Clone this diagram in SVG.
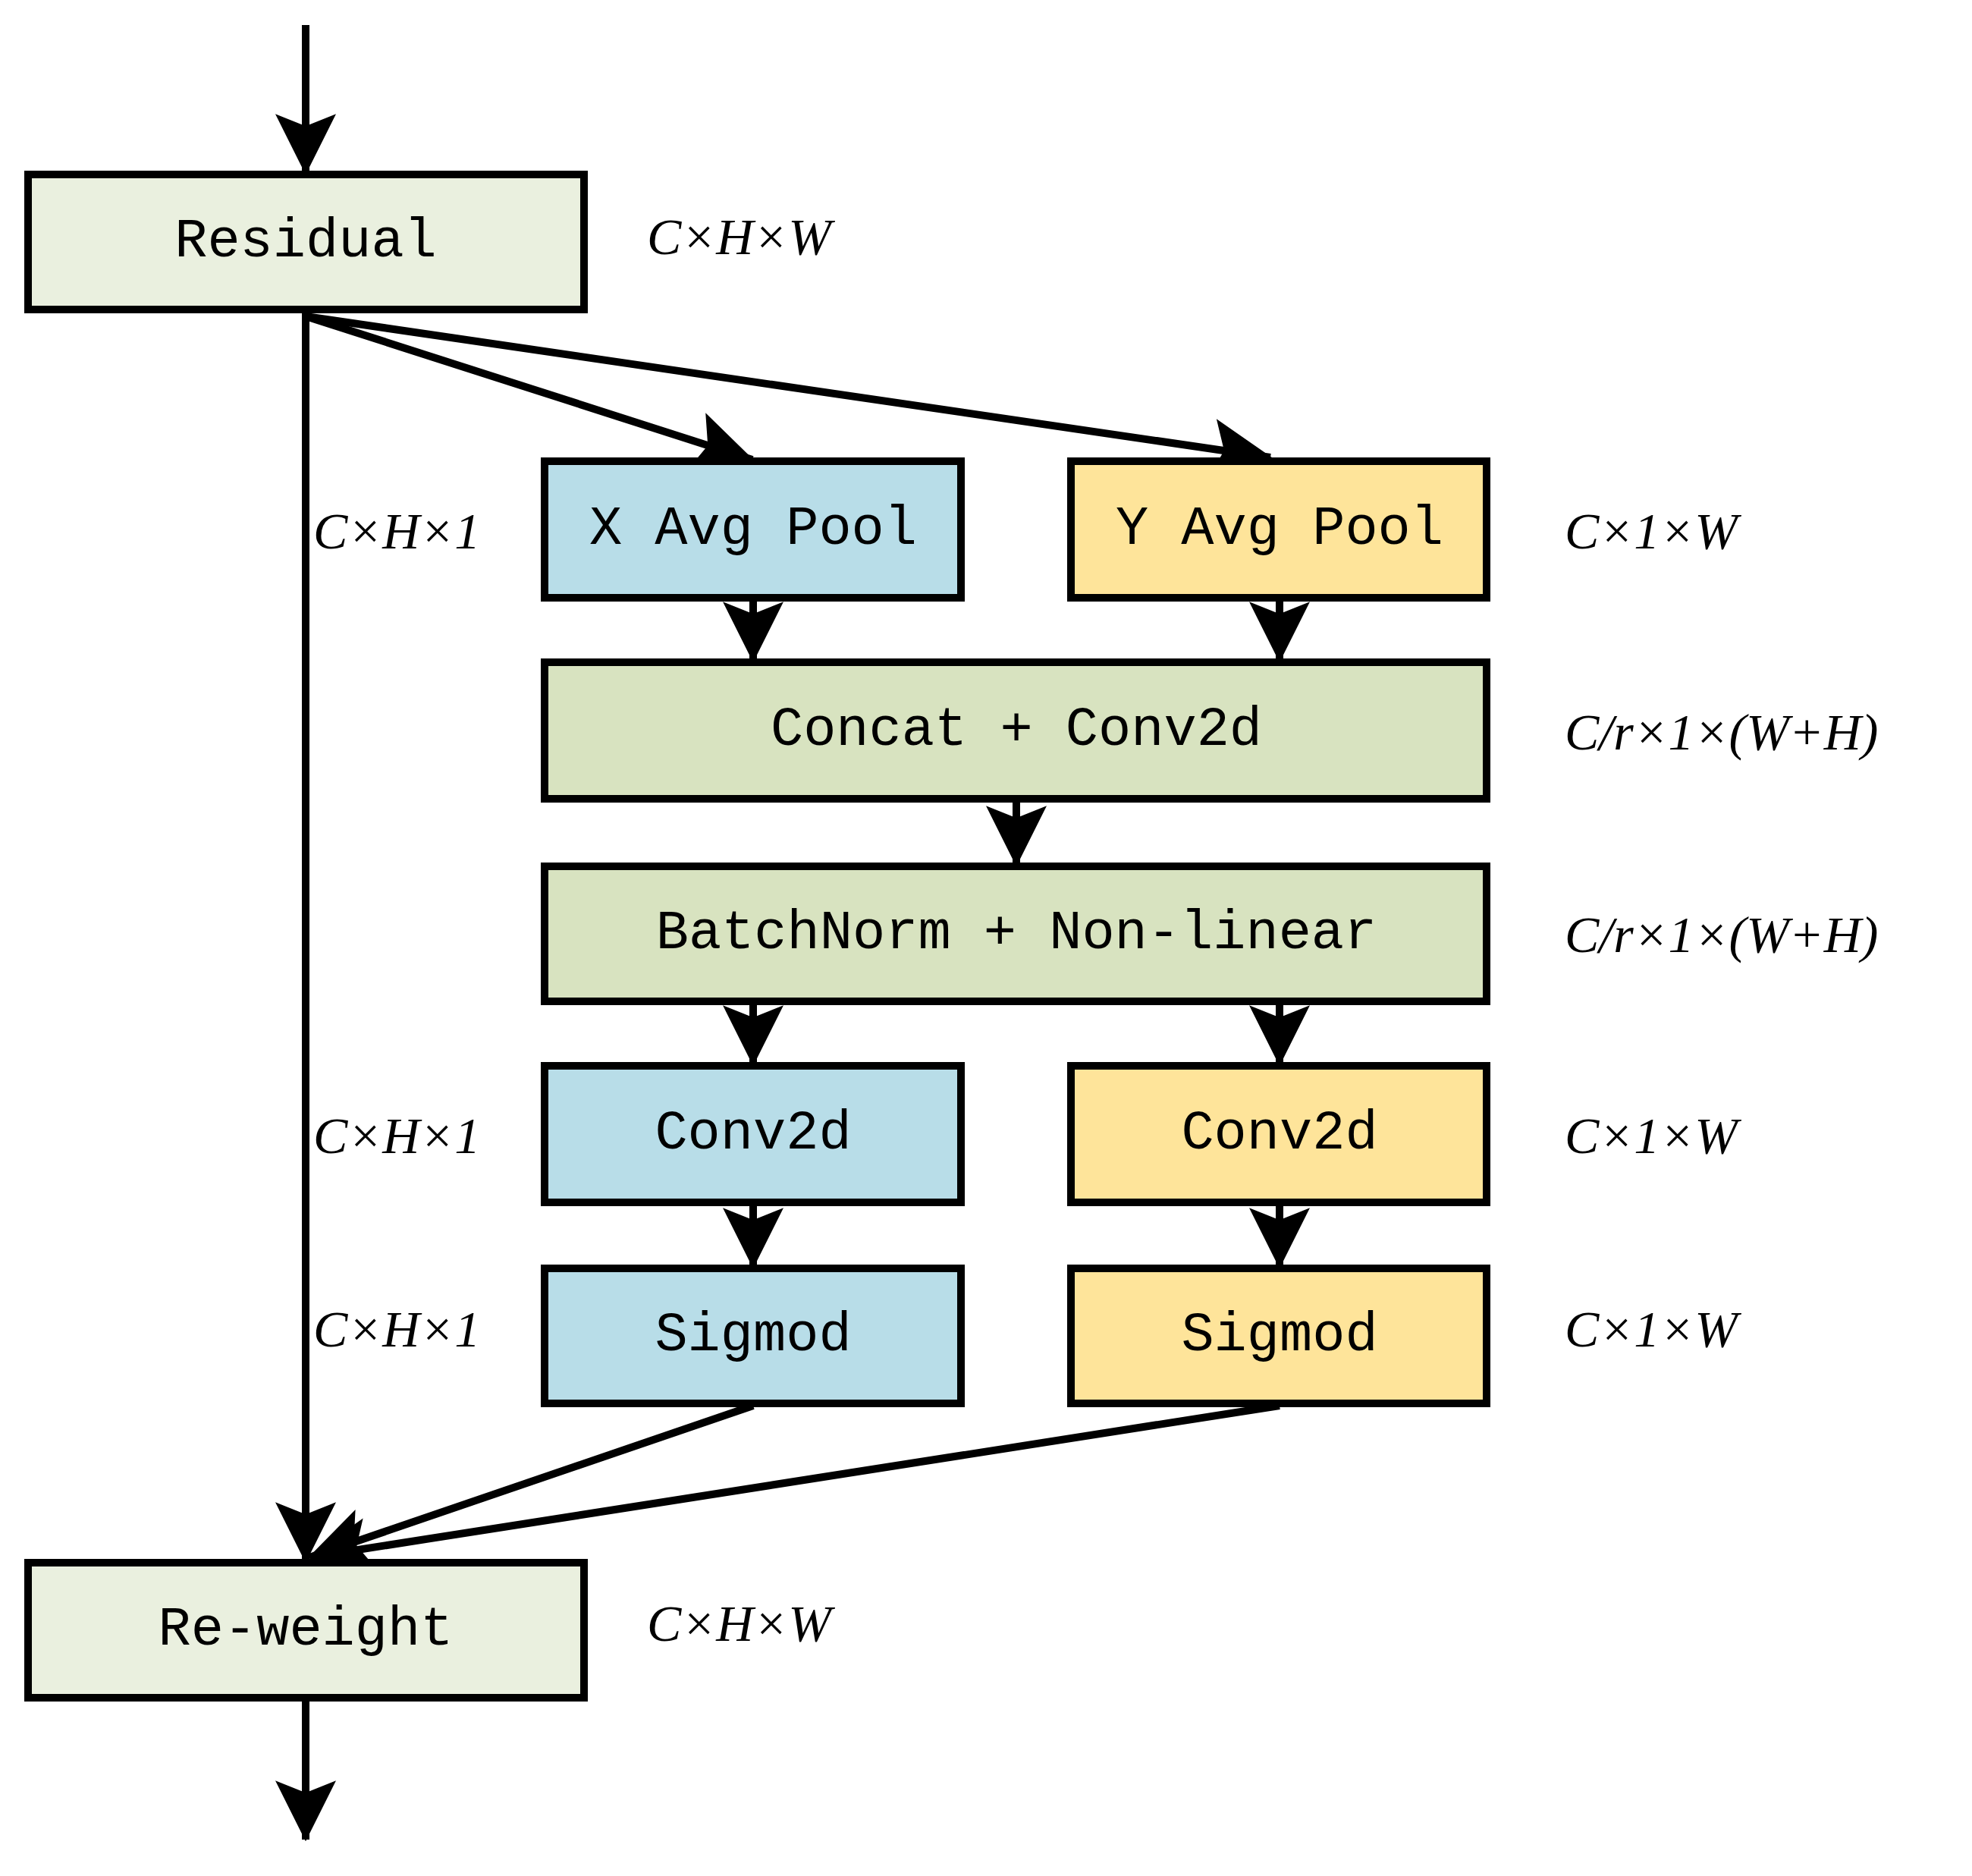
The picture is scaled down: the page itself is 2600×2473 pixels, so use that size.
<svg xmlns="http://www.w3.org/2000/svg" width="2600" height="2473" viewBox="0 0 2600 2473">
<style>
.b{stroke:#000;stroke-width:10}
.t{font-family:"Liberation Mono",monospace;font-size:72px;text-anchor:middle;dominant-baseline:central}
.l{font-family:"Liberation Serif",serif;font-style:italic;font-size:68px;dominant-baseline:central}
.c{stroke:#000;stroke-width:10;fill:none;marker-end:url(#a)}
</style>
<defs><marker id="a" markerUnits="userSpaceOnUse" markerWidth="80" markerHeight="80" viewBox="0 0 70 70" refX="68" refY="35" orient="auto"><path d="M0,0 L70,35 L0,70 L14,35 Z"/></marker></defs>
<rect width="2600" height="2473" fill="#fff"/>
<g id="connectors">
<line class="c" x1="403" y1="33" x2="403" y2="228"/>
<line class="c" x1="403" y1="408" x2="403" y2="2058"/>
<line class="c" x1="403" y1="2238" x2="403" y2="2425"/>
<line class="c" x1="403" y1="417" x2="992" y2="606"/>
<line class="c" x1="403" y1="417" x2="1675" y2="603"/>
<line class="c" x1="993" y1="788" x2="993" y2="871"/>
<line class="c" x1="1687" y1="788" x2="1687" y2="871"/>
<line class="c" x1="1340" y1="1053" x2="1340" y2="1140"/>
<line class="c" x1="993" y1="1320" x2="993" y2="1403"/>
<line class="c" x1="1687" y1="1320" x2="1687" y2="1403"/>
<line class="c" x1="993" y1="1585" x2="993" y2="1670"/>
<line class="c" x1="1687" y1="1585" x2="1687" y2="1670"/>
<line class="c" x1="993" y1="1853" x2="408" y2="2053"/>
<line class="c" x1="1687" y1="1853" x2="408" y2="2053"/>
</g>
<g id="residual"><rect class="b" x="37" y="230" width="733" height="178" fill="#EAF0DF"/><text class="t" x="403" y="319">Residual</text></g>
<g id="xpool"><rect class="b" x="718" y="608" width="549" height="180" fill="#B8DDE8"/><text class="t" x="993" y="698">X Avg Pool</text></g>
<g id="ypool"><rect class="b" x="1412" y="608" width="548" height="180" fill="#FEE49A"/><text class="t" x="1687" y="698">Y Avg Pool</text></g>
<g id="concat"><rect class="b" x="718" y="873" width="1242" height="180" fill="#D8E3C0"/><text class="t" x="1340" y="963">Concat + Conv2d</text></g>
<g id="bn"><rect class="b" x="718" y="1142" width="1242" height="178" fill="#D8E3C0"/><text class="t" x="1340" y="1231">BatchNorm + Non-linear</text></g>
<g id="xconv"><rect class="b" x="718" y="1405" width="549" height="180" fill="#B8DDE8"/><text class="t" x="993" y="1495">Conv2d</text></g>
<g id="yconv"><rect class="b" x="1412" y="1405" width="548" height="180" fill="#FEE49A"/><text class="t" x="1687" y="1495">Conv2d</text></g>
<g id="xsig"><rect class="b" x="718" y="1672" width="549" height="178" fill="#B8DDE8"/><text class="t" x="993" y="1761">Sigmod</text></g>
<g id="ysig"><rect class="b" x="1412" y="1672" width="548" height="178" fill="#FEE49A"/><text class="t" x="1687" y="1761">Sigmod</text></g>
<g id="reweight"><rect class="b" x="37" y="2060" width="733" height="178" fill="#EAF0DF"/><text class="t" x="403" y="2149">Re-weight</text></g>
<g id="labels">
<text class="l" x="853" y="312">C×H×W</text>
<text class="l" x="413" y="700">C×H×1</text>
<text class="l" x="2063" y="700">C×1×W</text>
<text class="l" x="2063" y="965">C/r×1×(W+H)</text>
<text class="l" x="2063" y="1232">C/r×1×(W+H)</text>
<text class="l" x="413" y="1497">C×H×1</text>
<text class="l" x="2063" y="1497">C×1×W</text>
<text class="l" x="413" y="1752">C×H×1</text>
<text class="l" x="2063" y="1752">C×1×W</text>
<text class="l" x="853" y="2140">C×H×W</text>
</g>
</svg>
